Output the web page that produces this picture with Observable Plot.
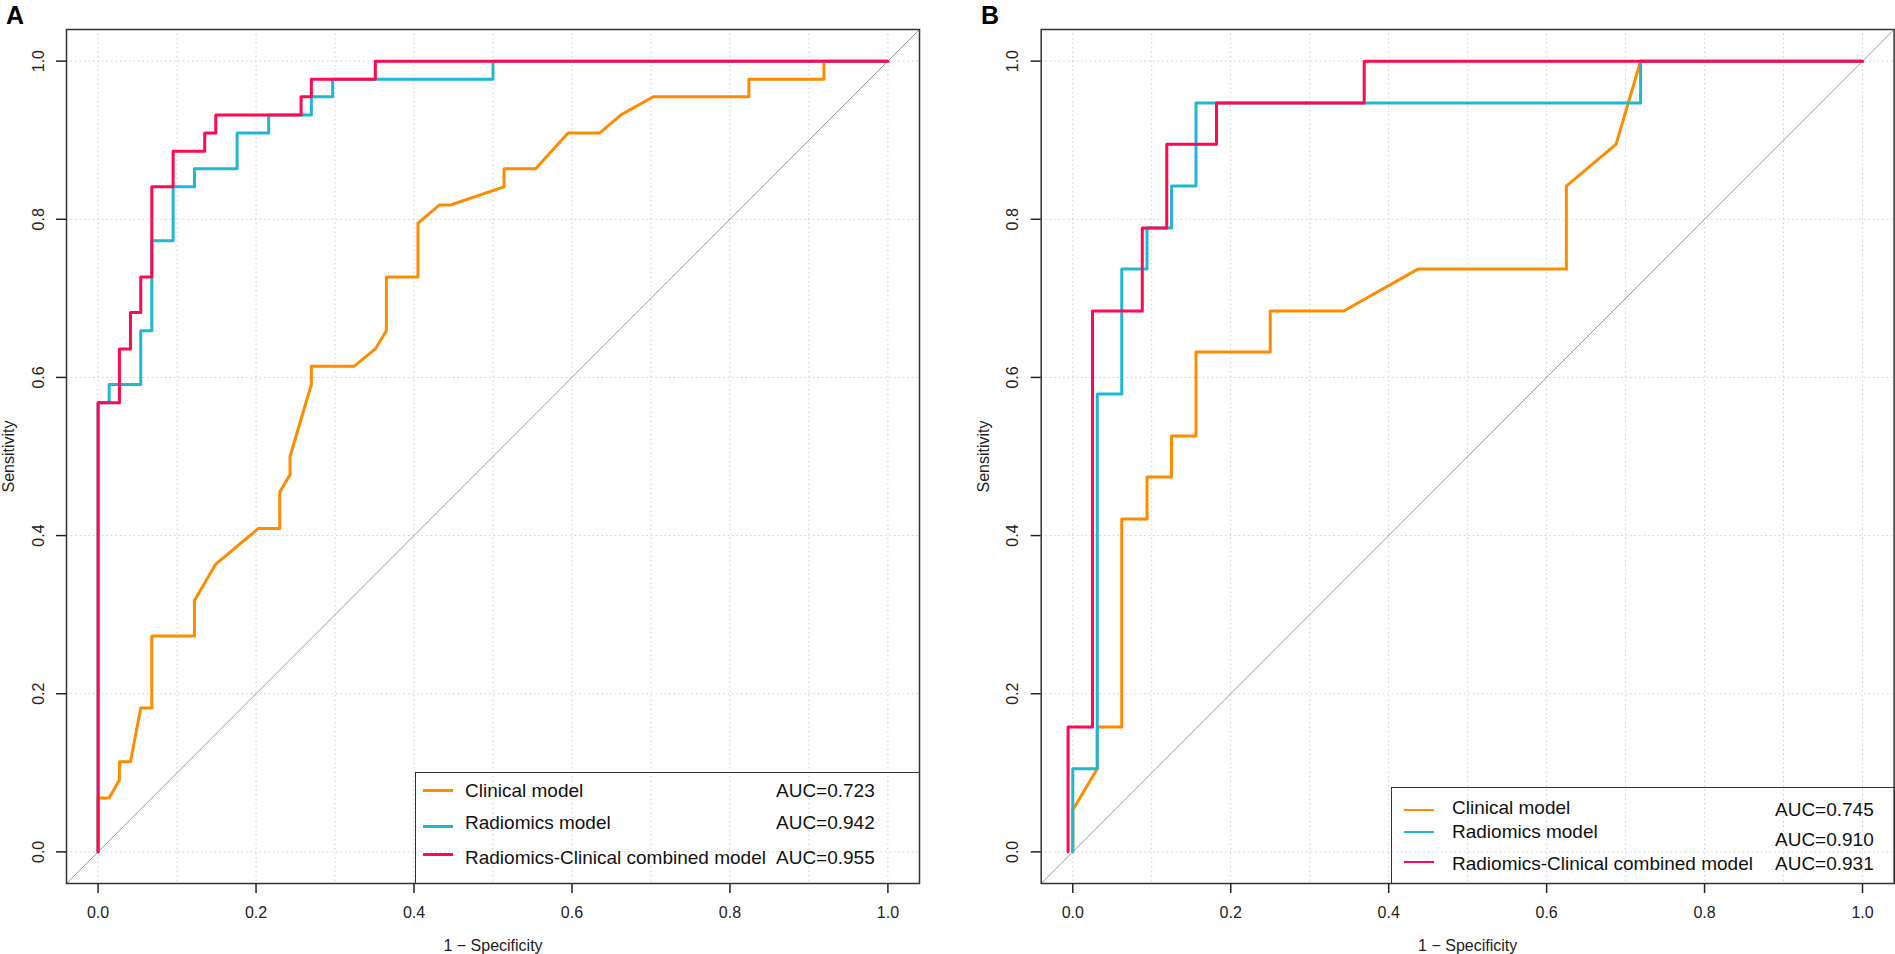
<!DOCTYPE html>
<html>
<head>
<meta charset="utf-8">
<script src="https://cdn.jsdelivr.net/npm/d3@7"></script>
<script src="https://cdn.jsdelivr.net/npm/@observablehq/plot@0.6"></script>
<style>
  body { margin: 0; background: #fff; font-family: "Liberation Sans", Arial, sans-serif; }
  #page { position: relative; width: 1895px; height: 954px; overflow: hidden; }
  .panel { position: absolute; top: 0; }
  .tag { position: absolute; font-weight: bold; font-size: 25px; line-height: 1; color: #000; }
  .lbox { position: absolute; border: 1.5px solid #333; box-sizing: border-box; }
  .ltxt { position: absolute; white-space: nowrap; font-size: 19px; line-height: 1; color: #111; transform: translateY(-50%); }
  .lsw { position: absolute; width: 30px; }
</style>
</head>
<body>
<div id="page"></div>
<script>
// legend entries
const models = ["Clinical model", "Radiomics model", "Radiomics-Clinical combined model"];
const colors = ["#FF8C00", "#1FB7D3", "#FF0A52"];
const aucA = ["0.723", "0.942", "0.955"];
const aucB = ["0.745", "0.910", "0.931"];

// axes
const axisTicks = [0, 0.2, 0.4, 0.6, 0.8, 1.0];
const gridXTicks = [0, 0.1, 0.2, 0.3, 0.4, 0.5, 0.6, 0.7, 0.8, 0.9, 1.0];
const lim = [-0.04, 1.04];

// panel A: [1 - specificity, sensitivity]
const clinicalA = [[0,0],[0,0.068],[0.014,0.068],[0.027,0.091],[0.027,0.114],[0.041,0.114],[0.054,0.182],[0.068,0.182],[0.068,0.273],[0.122,0.273],[0.122,0.318],[0.149,0.364],[0.203,0.409],[0.230,0.409],[0.230,0.455],[0.243,0.477],[0.243,0.500],[0.270,0.591],[0.270,0.614],[0.324,0.614],[0.351,0.636],[0.365,0.659],[0.365,0.727],[0.405,0.727],[0.405,0.795],[0.432,0.818],[0.446,0.818],[0.514,0.841],[0.514,0.864],[0.554,0.864],[0.595,0.909],[0.635,0.909],[0.662,0.932],[0.703,0.955],[0.824,0.955],[0.824,0.977],[0.919,0.977],[0.919,1],[1,1]];
const radiomicsA = [[0,0],[0,0.568],[0.014,0.568],[0.014,0.591],[0.054,0.591],[0.054,0.659],[0.068,0.659],[0.068,0.773],[0.095,0.773],[0.095,0.841],[0.122,0.841],[0.122,0.864],[0.176,0.864],[0.176,0.909],[0.216,0.909],[0.216,0.932],[0.270,0.932],[0.270,0.955],[0.297,0.955],[0.297,0.977],[0.500,0.977],[0.500,1],[1,1]];
const combinedA = [[0,0],[0,0.568],[0.027,0.568],[0.027,0.636],[0.041,0.636],[0.041,0.682],[0.054,0.682],[0.054,0.727],[0.068,0.727],[0.068,0.841],[0.095,0.841],[0.095,0.886],[0.135,0.886],[0.135,0.909],[0.149,0.909],[0.149,0.932],[0.257,0.932],[0.257,0.955],[0.270,0.955],[0.270,0.977],[0.351,0.977],[0.351,1],[1,1]];

// panel B
const clinicalB = [[0,0],[0,0.053],[0.031,0.105],[0.031,0.158],[0.062,0.158],[0.062,0.421],[0.094,0.421],[0.094,0.474],[0.125,0.474],[0.125,0.526],[0.156,0.526],[0.156,0.632],[0.250,0.632],[0.250,0.684],[0.343,0.684],[0.437,0.737],[0.625,0.737],[0.625,0.842],[0.688,0.895],[0.719,1],[1,1]];
const radiomicsB = [[0,0],[0,0.105],[0.031,0.105],[0.031,0.579],[0.062,0.579],[0.062,0.737],[0.094,0.737],[0.094,0.789],[0.125,0.789],[0.125,0.842],[0.156,0.842],[0.156,0.947],[0.719,0.947],[0.719,1],[1,1]];
const combinedB = [[-0.006,0],[-0.006,0.158],[0.025,0.158],[0.025,0.684],[0.088,0.684],[0.088,0.789],[0.119,0.789],[0.119,0.895],[0.182,0.895],[0.182,0.947],[0.369,0.947],[0.369,1],[1,1]];

const fmt = d3.format(".1f");

function rocPlot(curves, width, marginLeft, marginRight) {
  return Plot.plot({
    width: width,
    height: 954,
    marginLeft: marginLeft,
    marginRight: marginRight,
    marginTop: 29,
    marginBottom: 71,
    style: { fontFamily: "Liberation Sans, Arial, sans-serif", fontSize: "16px", color: "#222", background: "transparent", overflow: "visible" },
    x: { domain: lim },
    y: { domain: lim },
    marks: [
      Plot.gridX(gridXTicks, { stroke: "#cfcfcf", strokeOpacity: 1, strokeDasharray: "1.5,3" }),
      Plot.gridY(axisTicks, { stroke: "#cfcfcf", strokeOpacity: 1, strokeDasharray: "1.5,3" }),
      Plot.line(lim.map(v => [v, v]), { stroke: "#9a9a9a", strokeWidth: 1, clip: true }),
      ...curves.map((c, i) => Plot.line(c, { stroke: colors[i], strokeWidth: 3 })),
      Plot.frame({ stroke: "#333", strokeWidth: 1.5 }),
      Plot.axisX(axisTicks, { tickSize: 10, tickPadding: 13, tickFormat: fmt, strokeWidth: 1.5,
        label: "1 − Specificity", labelAnchor: "center", labelArrow: "none", labelOffset: 67 }),
      Plot.axisY(axisTicks, { tickSize: 10, tickPadding: 13, tickRotate: -90, tickFormat: fmt, strokeWidth: 1.5,
        label: "Sensitivity", labelAnchor: "center", labelArrow: "none", labelOffset: 64 })
    ]
  });
}

const page = document.getElementById("page");

function addPanel(svg, left, tag, tagLeft) {
  const div = document.createElement("div");
  div.className = "panel";
  div.style.left = left + "px";
  div.appendChild(svg);
  page.appendChild(div);
  const t = document.createElement("div");
  t.className = "tag";
  t.textContent = tag;
  t.style.left = tagLeft + "px";
  t.style.top = "3px";
  page.appendChild(t);
}

function addLegend(box, lines, names, aucs, aucX, lineW) {
  const b = document.createElement("div");
  b.className = "lbox";
  b.style.left = box[0] + "px";
  b.style.top = box[1] + "px";
  b.style.width = (box[2] - box[0]) + "px";
  b.style.height = (box[3] - box[1]) + "px";
  page.appendChild(b);
  models.forEach((m, i) => {
    const sw = document.createElement("div");
    sw.className = "lsw";
    sw.style.left = lines.x + "px";
    sw.style.top = (lines.y[i] - lineW / 2) + "px";
    sw.style.height = lineW + "px";
    sw.style.background = colors[i];
    page.appendChild(sw);
    const t = document.createElement("div");
    t.className = "ltxt";
    t.textContent = m;
    t.style.left = names.x + "px";
    t.style.top = names.y[i] + "px";
    page.appendChild(t);
    const a = document.createElement("div");
    a.className = "ltxt";
    a.textContent = "AUC=" + aucs[i];
    a.style.left = aucX + "px";
    a.style.top = aucs.y[i] + "px";
    page.appendChild(a);
  });
}

addPanel(rocPlot([clinicalA, radiomicsA, combinedA], 940, 66, 21), 0, "A", 6);
addPanel(rocPlot([clinicalB, radiomicsB, combinedB], 920, 65.7, 1.4), 975, "B", 981);

const aucPosA = Object.assign(aucA.slice(), { y: [790, 822, 857] });
const aucPosB = Object.assign(aucB.slice(), { y: [809, 839, 863] });
addLegend([415, 771.5, 920, 883.8], { x: 423, y: [790, 826, 854] }, { x: 465, y: [790, 822, 857] }, aucPosA, 776, 3);
addLegend([1390.5, 786.5, 1894.5, 883.8], { x: 1404, y: [810, 832, 862] }, { x: 1452, y: [807, 831, 863] }, aucPosB, 1775, 1.8);
</script>
</body>
</html>
